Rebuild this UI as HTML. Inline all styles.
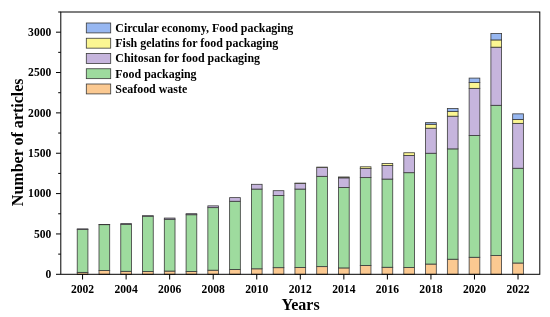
<!DOCTYPE html>
<html lang="en"><head><meta charset="utf-8"><title>Number of articles per year</title>
<style>html,body{margin:0;padding:0;background:#fff}body{width:550px;height:317px;overflow:hidden}svg{display:block}</style>
</head><body>
<svg width="550" height="317" viewBox="0 0 550 317">
<rect width="550" height="317" fill="#fff"/>
<g stroke="#3a3a3a" stroke-width="0.8">
<rect x="77.22" y="272.36" width="10.70" height="1.94" fill="#FBC991"/>
<rect x="77.22" y="229.51" width="10.70" height="42.86" fill="#9EDB9E"/>
<rect x="77.22" y="228.86" width="10.70" height="0.65" fill="#C6B5DD"/>
<rect x="99.00" y="270.51" width="10.70" height="3.79" fill="#FBC991"/>
<rect x="99.00" y="224.66" width="10.70" height="45.84" fill="#9EDB9E"/>
<rect x="99.00" y="224.50" width="10.70" height="0.16" fill="#C6B5DD"/>
<rect x="120.77" y="271.31" width="10.70" height="2.99" fill="#FBC991"/>
<rect x="120.77" y="224.26" width="10.70" height="47.05" fill="#9EDB9E"/>
<rect x="120.77" y="223.62" width="10.70" height="0.65" fill="#C6B5DD"/>
<rect x="142.54" y="271.56" width="10.70" height="2.74" fill="#FBC991"/>
<rect x="142.54" y="216.19" width="10.70" height="55.37" fill="#9EDB9E"/>
<rect x="142.54" y="215.71" width="10.70" height="0.48" fill="#C6B5DD"/>
<rect x="164.31" y="271.07" width="10.70" height="3.23" fill="#FBC991"/>
<rect x="164.31" y="219.26" width="10.70" height="51.81" fill="#9EDB9E"/>
<rect x="164.31" y="218.05" width="10.70" height="1.21" fill="#C6B5DD"/>
<rect x="186.09" y="271.48" width="10.70" height="2.82" fill="#FBC991"/>
<rect x="186.09" y="214.74" width="10.70" height="56.74" fill="#9EDB9E"/>
<rect x="186.09" y="213.69" width="10.70" height="1.05" fill="#C6B5DD"/>
<rect x="207.86" y="270.18" width="10.70" height="4.12" fill="#FBC991"/>
<rect x="207.86" y="207.64" width="10.70" height="62.55" fill="#9EDB9E"/>
<rect x="207.86" y="205.86" width="10.70" height="1.78" fill="#C6B5DD"/>
<rect x="229.63" y="269.46" width="10.70" height="4.84" fill="#FBC991"/>
<rect x="229.63" y="201.26" width="10.70" height="68.20" fill="#9EDB9E"/>
<rect x="229.63" y="197.63" width="10.70" height="3.63" fill="#C6B5DD"/>
<rect x="251.40" y="268.81" width="10.70" height="5.49" fill="#FBC991"/>
<rect x="251.40" y="189.07" width="10.70" height="79.74" fill="#9EDB9E"/>
<rect x="251.40" y="184.31" width="10.70" height="4.76" fill="#C6B5DD"/>
<rect x="273.18" y="267.68" width="10.70" height="6.62" fill="#FBC991"/>
<rect x="273.18" y="195.45" width="10.70" height="72.23" fill="#9EDB9E"/>
<rect x="273.18" y="190.69" width="10.70" height="4.76" fill="#C6B5DD"/>
<rect x="294.95" y="267.44" width="10.70" height="6.86" fill="#FBC991"/>
<rect x="294.95" y="189.07" width="10.70" height="78.37" fill="#9EDB9E"/>
<rect x="294.95" y="183.50" width="10.70" height="5.57" fill="#C6B5DD"/>
<rect x="294.95" y="183.10" width="10.70" height="0.40" fill="#FBF692"/>
<rect x="316.72" y="266.63" width="10.70" height="7.67" fill="#FBC991"/>
<rect x="316.72" y="176.32" width="10.70" height="90.31" fill="#9EDB9E"/>
<rect x="316.72" y="167.60" width="10.70" height="8.72" fill="#C6B5DD"/>
<rect x="316.72" y="167.12" width="10.70" height="0.48" fill="#FBF692"/>
<rect x="338.50" y="267.92" width="10.70" height="6.38" fill="#FBC991"/>
<rect x="338.50" y="187.46" width="10.70" height="80.47" fill="#9EDB9E"/>
<rect x="338.50" y="177.85" width="10.70" height="9.60" fill="#C6B5DD"/>
<rect x="338.50" y="176.97" width="10.70" height="0.89" fill="#FBF692"/>
<rect x="360.27" y="265.42" width="10.70" height="8.88" fill="#FBC991"/>
<rect x="360.27" y="177.61" width="10.70" height="87.81" fill="#9EDB9E"/>
<rect x="360.27" y="168.49" width="10.70" height="9.12" fill="#C6B5DD"/>
<rect x="360.27" y="166.80" width="10.70" height="1.69" fill="#FBF692"/>
<rect x="382.04" y="267.28" width="10.70" height="7.02" fill="#FBC991"/>
<rect x="382.04" y="179.06" width="10.70" height="88.21" fill="#9EDB9E"/>
<rect x="382.04" y="165.43" width="10.70" height="13.64" fill="#C6B5DD"/>
<rect x="382.04" y="163.49" width="10.70" height="1.94" fill="#FBF692"/>
<rect x="403.81" y="267.44" width="10.70" height="6.86" fill="#FBC991"/>
<rect x="403.81" y="172.69" width="10.70" height="94.75" fill="#9EDB9E"/>
<rect x="403.81" y="155.42" width="10.70" height="17.27" fill="#C6B5DD"/>
<rect x="403.81" y="152.75" width="10.70" height="2.66" fill="#FBF692"/>
<rect x="425.59" y="264.05" width="10.70" height="10.25" fill="#FBC991"/>
<rect x="425.59" y="153.24" width="10.70" height="110.81" fill="#9EDB9E"/>
<rect x="425.59" y="128.22" width="10.70" height="25.02" fill="#C6B5DD"/>
<rect x="425.59" y="124.26" width="10.70" height="3.95" fill="#FBF692"/>
<rect x="425.59" y="122.65" width="10.70" height="1.61" fill="#97B7F1"/>
<rect x="447.36" y="259.21" width="10.70" height="15.09" fill="#FBC991"/>
<rect x="447.36" y="148.88" width="10.70" height="110.33" fill="#9EDB9E"/>
<rect x="447.36" y="116.19" width="10.70" height="32.69" fill="#C6B5DD"/>
<rect x="447.36" y="111.35" width="10.70" height="4.84" fill="#FBF692"/>
<rect x="447.36" y="108.53" width="10.70" height="2.82" fill="#97B7F1"/>
<rect x="469.13" y="257.27" width="10.70" height="17.03" fill="#FBC991"/>
<rect x="469.13" y="135.40" width="10.70" height="121.87" fill="#9EDB9E"/>
<rect x="469.13" y="88.35" width="10.70" height="47.05" fill="#C6B5DD"/>
<rect x="469.13" y="82.54" width="10.70" height="5.81" fill="#FBF692"/>
<rect x="469.13" y="78.10" width="10.70" height="4.44" fill="#97B7F1"/>
<rect x="490.90" y="255.58" width="10.70" height="18.72" fill="#FBC991"/>
<rect x="490.90" y="105.30" width="10.70" height="150.28" fill="#9EDB9E"/>
<rect x="490.90" y="47.19" width="10.70" height="58.11" fill="#C6B5DD"/>
<rect x="490.90" y="39.92" width="10.70" height="7.26" fill="#FBF692"/>
<rect x="490.90" y="33.47" width="10.70" height="6.46" fill="#97B7F1"/>
<rect x="512.68" y="263.00" width="10.70" height="11.30" fill="#FBC991"/>
<rect x="512.68" y="168.25" width="10.70" height="94.75" fill="#9EDB9E"/>
<rect x="512.68" y="123.38" width="10.70" height="44.87" fill="#C6B5DD"/>
<rect x="512.68" y="119.42" width="10.70" height="3.95" fill="#FBF692"/>
<rect x="512.68" y="113.85" width="10.70" height="5.57" fill="#97B7F1"/>
</g>
<g stroke="#000" stroke-width="1" fill="none">
<rect x="60.80" y="12.00" width="479.00" height="262.30"/>
<line x1="56.00" y1="274.30" x2="60.80" y2="274.30"/>
<line x1="58.20" y1="254.12" x2="60.80" y2="254.12"/>
<line x1="56.00" y1="233.95" x2="60.80" y2="233.95"/>
<line x1="58.20" y1="213.77" x2="60.80" y2="213.77"/>
<line x1="56.00" y1="193.59" x2="60.80" y2="193.59"/>
<line x1="58.20" y1="173.42" x2="60.80" y2="173.42"/>
<line x1="56.00" y1="153.24" x2="60.80" y2="153.24"/>
<line x1="58.20" y1="133.06" x2="60.80" y2="133.06"/>
<line x1="56.00" y1="112.88" x2="60.80" y2="112.88"/>
<line x1="58.20" y1="92.71" x2="60.80" y2="92.71"/>
<line x1="56.00" y1="72.53" x2="60.80" y2="72.53"/>
<line x1="58.20" y1="52.35" x2="60.80" y2="52.35"/>
<line x1="56.00" y1="32.18" x2="60.80" y2="32.18"/>
<line x1="58.20" y1="12.00" x2="60.80" y2="12.00"/>
<line x1="82.57" y1="274.30" x2="82.57" y2="279.50"/>
<line x1="126.12" y1="274.30" x2="126.12" y2="279.50"/>
<line x1="169.66" y1="274.30" x2="169.66" y2="279.50"/>
<line x1="213.21" y1="274.30" x2="213.21" y2="279.50"/>
<line x1="256.75" y1="274.30" x2="256.75" y2="279.50"/>
<line x1="300.30" y1="274.30" x2="300.30" y2="279.50"/>
<line x1="343.85" y1="274.30" x2="343.85" y2="279.50"/>
<line x1="387.39" y1="274.30" x2="387.39" y2="279.50"/>
<line x1="430.94" y1="274.30" x2="430.94" y2="279.50"/>
<line x1="474.48" y1="274.30" x2="474.48" y2="279.50"/>
<line x1="518.03" y1="274.30" x2="518.03" y2="279.50"/>
</g>
<g font-family="'Liberation Serif', 'Times New Roman', serif" font-weight="bold" fill="#000">
<g font-size="11.6" text-anchor="end">
<text x="51.30" y="278.10">0</text>
<text x="51.30" y="237.75">500</text>
<text x="51.30" y="197.39">1000</text>
<text x="51.30" y="157.04">1500</text>
<text x="51.30" y="116.68">2000</text>
<text x="51.30" y="76.33">2500</text>
<text x="51.30" y="35.98">3000</text>
</g>
<g font-size="11.6" text-anchor="middle">
<text x="82.57" y="292.8">2002</text>
<text x="126.12" y="292.8">2004</text>
<text x="169.66" y="292.8">2006</text>
<text x="213.21" y="292.8">2008</text>
<text x="256.75" y="292.8">2010</text>
<text x="300.30" y="292.8">2012</text>
<text x="343.85" y="292.8">2014</text>
<text x="387.39" y="292.8">2016</text>
<text x="430.94" y="292.8">2018</text>
<text x="474.48" y="292.8">2020</text>
<text x="518.03" y="292.8">2022</text>
</g>
<text x="300.5" y="309.7" font-size="16" text-anchor="middle">Years</text>
<text transform="translate(22.6,142.3) rotate(-90)" font-size="16" text-anchor="middle">Number of articles</text>
<g font-size="11.95">
<rect x="86.3" y="23.00" width="24.4" height="9.9" fill="#97B7F1" stroke="#3a3a3a" stroke-width="0.8"/>
<text x="115.3" y="31.95">Circular economy, Food packaging</text>
<rect x="86.3" y="38.25" width="24.4" height="9.9" fill="#FBF692" stroke="#3a3a3a" stroke-width="0.8"/>
<text x="115.3" y="47.17">Fish gelatins for food packaging</text>
<rect x="86.3" y="53.50" width="24.4" height="9.9" fill="#C6B5DD" stroke="#3a3a3a" stroke-width="0.8"/>
<text x="115.3" y="62.39">Chitosan for food packaging</text>
<rect x="86.3" y="68.75" width="24.4" height="9.9" fill="#9EDB9E" stroke="#3a3a3a" stroke-width="0.8"/>
<text x="115.3" y="77.61">Food packaging</text>
<rect x="86.3" y="84.00" width="24.4" height="9.9" fill="#FBC991" stroke="#3a3a3a" stroke-width="0.8"/>
<text x="115.3" y="92.83">Seafood waste</text>
</g>
</g>
</svg>
</body></html>
